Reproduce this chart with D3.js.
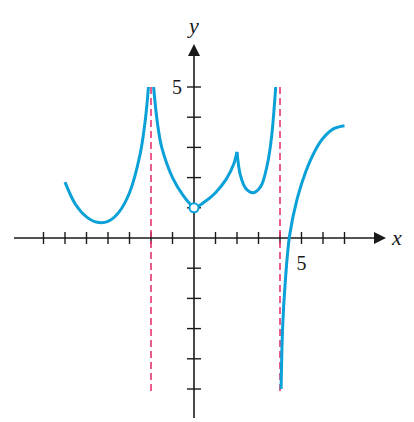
<!DOCTYPE html><html><head><meta charset="utf-8"><script src="https://cdn.jsdelivr.net/npm/d3@7"></script>
<style>body{margin:0;background:#fff}</style></head><body><svg id="c" width="414" height="422"></svg>
<script>
const xTicks=d3.range(-7,8).filter(d=>d!==0);
const yTicks=d3.range(-5,6).filter(d=>d!==0);
const asymptotes=[-2,4];
const seg1=[[-6,1.85],[-5.5,1.1],[-5,0.7],[-4.5,0.52],[-4,0.55],[-3.5,0.85],[-3,1.5],[-2.5,2.8],[-2.25,4],[-2.12,5]];
const seg2=[[-1.88,5],[-1.7,3.8],[-1.5,3],[-1,2],[-0.5,1.4],[-0.15,1.1],[0,1.0],[0.5,1.2],[1,1.5],[1.5,1.95],[1.85,2.45],[2,2.85]];
const seg3=[[2,2.85],[2.15,2.1],[2.4,1.65],[2.75,1.5],[3.1,1.7],[3.4,2.4],[3.6,3.3],[3.8,5]];
const seg4=[[4.05,-5],[4.12,-3],[4.25,-1.4],[4.45,0.1],[4.8,1.3],[5.2,2.2],[5.6,2.85],[6,3.3],[6.5,3.62],[7,3.72]];
const openPt=[0,1];
const svg=d3.select("#c");
const x=d3.scaleLinear().domain([0,1]).range([194,215.5]);
const y=d3.scaleLinear().domain([0,1]).range([238,207.8]);
const ax="#1a1a1a";
// x axis
svg.append("line").attr("x1",14).attr("x2",374).attr("y1",y(0)).attr("y2",y(0)).attr("stroke",ax).attr("stroke-width",1.6);
svg.append("path").attr("d",`M374,${y(0)-6}L386,${y(0)}L374,${y(0)+6}Z`).attr("fill",ax);
svg.append("line").attr("x1",x(0)).attr("x2",x(0)).attr("y1",418).attr("y2",56).attr("stroke",ax).attr("stroke-width",1.6);
svg.append("path").attr("d",`M${x(0)-6},56L${x(0)},44L${x(0)+6},56Z`).attr("fill",ax);
svg.selectAll(".xt").data(xTicks).enter().append("line").attr("x1",d=>x(d)).attr("x2",d=>x(d)).attr("y1",y(0)-6).attr("y2",y(0)+6).attr("stroke",ax).attr("stroke-width",1.4);
svg.selectAll(".yt").data(yTicks).enter().append("line").attr("y1",d=>y(d)).attr("y2",d=>y(d)).attr("x1",x(0)-7).attr("x2",x(0)+7).attr("stroke",ax).attr("stroke-width",1.4);
const f="'Liberation Serif','DejaVu Serif',serif";
svg.append("text").attr("x",x(5)).attr("y",y(0)+32).attr("text-anchor","middle").attr("font-family",f).attr("font-size",20).attr("fill",ax).text("5");
svg.append("text").attr("x",x(0)-12).attr("y",y(5)+7).attr("text-anchor","end").attr("font-family",f).attr("font-size",20).attr("fill",ax).text("5");
svg.append("text").attr("x",392).attr("y",y(0)+7).attr("font-family",f).attr("font-style","italic").attr("font-size",22).attr("fill",ax).text("x");
svg.append("text").attr("x",x(0)).attr("y",33).attr("text-anchor","middle").attr("font-family",f).attr("font-style","italic").attr("font-size",22).attr("fill",ax).text("y");
svg.selectAll(".as").data(asymptotes).enter().append("line").attr("x1",d=>x(d)).attr("x2",d=>x(d)).attr("y1",y(5)).attr("y2",y(-5.1)).attr("stroke","#e8336f").attr("stroke-width",1.6).attr("stroke-dasharray","7,4");
const line=d3.line().x(d=>x(d[0])).y(d=>y(d[1])).curve(d3.curveCatmullRom.alpha(0.5));
[seg1,seg2,seg3,seg4].forEach(s=>svg.append("path").attr("d",line(s)).attr("fill","none").attr("stroke","#0aa0d8").attr("stroke-width",3));
svg.append("circle").attr("cx",x(openPt[0])).attr("cy",y(openPt[1])).attr("r",4.5).attr("fill","#fff").attr("stroke","#0aa0d8").attr("stroke-width",2);
</script></body></html>
